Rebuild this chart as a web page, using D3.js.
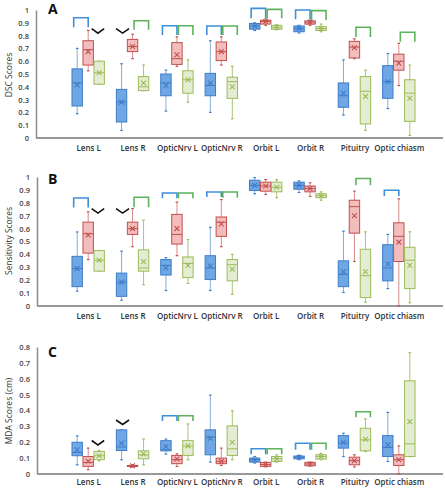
<!DOCTYPE html>
<html>
<head>
<meta charset="utf-8">
<script src="https://cdn.jsdelivr.net/npm/d3@7"></script>
<style>
  body { margin: 0; background: #fff; }
  text { font-family: "Open Sans", "Liberation Sans", sans-serif; }
</style>
</head>
<body>
<div id="chart"></div>
<script>
// categories on the x axis (same for the three panels)
var categories = ["Lens L", "Lens R", "OpticNrv L", "OpticNrv R", "Orbit L", "Orbit R", "Pituitry", "Optic chiasm"];
var series = ["blue", "red", "green"];

// each box: [whisker low, q1, median, q3, whisker high, mean]
var dscBlue = [[0.19,0.25,0.43,0.54,0.70,0.415],[0.06,0.125,0.28,0.38,0.58,0.28],[0.21,0.33,0.43,0.50,0.53,0.41],[0.20,0.33,0.41,0.505,0.76,0.43],
  [0.84,0.85,0.875,0.895,0.90,0.875],[0.82,0.83,0.855,0.875,0.88,0.855],[0.18,0.24,0.33,0.43,0.61,0.35],[0.23,0.31,0.44,0.565,0.66,0.44]];
var dscRed = [[0.525,0.57,0.69,0.76,0.84,0.675],[0.62,0.675,0.715,0.77,0.81,0.715],[0.56,0.575,0.62,0.745,0.79,0.65],[0.57,0.605,0.675,0.75,0.79,0.675],
  [0.88,0.89,0.91,0.92,0.93,0.91],[0.88,0.89,0.905,0.915,0.92,0.905],[0.62,0.625,0.71,0.755,0.775,0.705],[0.41,0.53,0.60,0.655,0.74,0.585]];
var dscGreen = [[0.42,0.42,0.51,0.60,0.60,0.51],[0.37,0.37,0.40,0.48,0.57,0.43],[0.28,0.35,0.455,0.525,0.61,0.455],[0.15,0.31,0.44,0.475,0.56,0.40],
  [0.845,0.85,0.865,0.88,0.885,0.865],[0.83,0.84,0.855,0.87,0.89,0.855],[0.06,0.11,0.365,0.48,0.53,0.325],[0.02,0.13,0.35,0.455,0.57,0.31]];

var sensBlue = [[0.115,0.15,0.29,0.385,0.574,0.29],[0.045,0.075,0.185,0.255,0.425,0.185],[0.12,0.24,0.315,0.36,0.375,0.295],[0.12,0.205,0.295,0.39,0.61,0.31],
  [0.87,0.895,0.935,0.975,0.995,0.935],[0.88,0.905,0.935,0.96,0.97,0.935],[0.105,0.15,0.245,0.35,0.58,0.265],[0.135,0.195,0.295,0.475,0.555,0.325]];
var sensRed = [[0.36,0.41,0.56,0.65,0.73,0.55],[0.46,0.555,0.60,0.65,0.755,0.60],[0.39,0.48,0.555,0.71,0.805,0.60],[0.46,0.54,0.65,0.69,0.825,0.635],
  [0.865,0.89,0.93,0.96,0.98,0.93],[0.85,0.885,0.91,0.93,0.955,0.91],[0.345,0.565,0.77,0.82,0.89,0.70],[0,0.345,0.54,0.645,0.83,0.495]];
var sensGreen = [[0.27,0.27,0.355,0.43,0.43,0.355],[0.165,0.27,0.295,0.435,0.665,0.345],[0.175,0.22,0.33,0.38,0.515,0.315],[0.09,0.195,0.32,0.36,0.40,0.285],
  [0.84,0.885,0.92,0.96,0.98,0.92],[0.82,0.84,0.855,0.87,0.885,0.855],[0.03,0.065,0.235,0.44,0.575,0.265],[0.025,0.135,0.355,0.455,0.575,0.315]];

var mdaBlue = [[0.058,0.115,0.135,0.20,0.24,0.152],[0.09,0.148,0.17,0.278,0.278,0.194],[0.125,0.146,0.152,0.21,0.22,0.173],[0.075,0.121,0.232,0.278,0.497,0.225],
  [0.069,0.075,0.09,0.10,0.11,0.09],[0.09,0.096,0.106,0.113,0.118,0.106],[0.11,0.163,0.195,0.242,0.257,0.198],[0.079,0.11,0.167,0.242,0.388,0.184]];
var mdaRed = [[0.027,0.048,0.073,0.11,0.163,0.08],[0.044,0.048,0.052,0.054,0.058,0.052],[0.048,0.065,0.09,0.117,0.127,0.094],[0.054,0.065,0.08,0.10,0.163,0.08],
  [0.045,0.048,0.06,0.073,0.075,0.06],[0.05,0.052,0.063,0.073,0.075,0.063],[0.044,0.058,0.084,0.106,0.121,0.084],[0.002,0.054,0.09,0.121,0.177,0.09]];
var mdaGreen = [[0.083,0.09,0.115,0.142,0.148,0.115],[0.058,0.096,0.12,0.146,0.22,0.127],[0.09,0.117,0.175,0.21,0.315,0.177],[0.09,0.117,0.159,0.303,0.399,0.20],
  [0.075,0.079,0.096,0.11,0.121,0.096],[0.09,0.094,0.11,0.121,0.13,0.11],[0.142,0.146,0.215,0.288,0.347,0.219],[0.11,0.11,0.19,0.587,0.764,0.33]];

// significance marks: [category index, pair, kind, top value, bottom value]
var dscMarks = [[0,"br","bracket",0.94,0.865],[0,"rg","chevron",0.854,0],[1,"br","chevron",0.855,0],[1,"rg","bracket",0.916,0.845],
  [2,"br","bracket",0.877,0.805],[2,"rg","bracket",0.877,0.805],[3,"br","bracket",0.875,0.805],[3,"rg","bracket",0.875,0.805],
  [4,"br","bracket",1.013,0.935],[4,"rg","bracket",1.005,0.935],[5,"br","bracket",1.0,0.928],[5,"rg","bracket",0.995,0.922],
  [6,"rg","bracket",0.865,0.79],[7,"rg","bracket",0.826,0.752]];
var sensMarks = [[0,"br","bracket",0.837,0.763],[0,"rg","chevron",0.755,0],[1,"br","chevron",0.755,0],[1,"rg","bracket",0.843,0.765],
  [2,"br","bracket",0.876,0.835],[2,"rg","bracket",0.876,0.835],[3,"br","bracket",0.884,0.845],[3,"rg","bracket",0.884,0.84],
  [6,"rg","bracket",0.988,0.936],[7,"br","bracket",0.897,0.853]];
var mdaMarks = [[0,"rg","chevron",0.211,0],[1,"br","chevron",0.34,0],
  [2,"br","bracket",0.367,0.334],[2,"rg","bracket",0.367,0.334],[4,"br","bracket",0.159,0.125],[4,"rg","bracket",0.159,0.125],
  [5,"br","bracket",0.194,0.152],[5,"rg","bracket",0.194,0.152],[6,"rg","bracket",0.392,0.357]];

var yTicksScore = [0,0.1,0.2,0.3,0.4,0.5,0.6,0.7,0.8,0.9,1];
var yTicksMda = [0,0.1,0.2,0.3,0.4,0.5,0.6,0.7,0.8];

var fills = {blue: "#6fa7e4", red: "#f3bdbd", green: "#e4edd1"};
var strokes = {blue: "#3e7cc8", red: "#c0504d", green: "#9bbb59"};
var whisk = {blue: "#84acdc", red: "#d88d8b", green: "#a9c677"};
var markColor = {br: "#3f90da", rg: "#5cb35c"};

var svg = d3.select("#chart").append("svg")
  .attr("width", 445).attr("height", 489);

var x = d3.scalePoint().domain(categories).range([66, 421]).padding(0.5);
var xs = d3.scaleBand().domain(series).range([-16.5, 16.5]);
var bw = 10.4;

var panels = [
  {letter: "A", title: "DSC Scores", data: [dscBlue, dscRed, dscGreen], marks: dscMarks, ticks: yTicksScore, fmt: function(d){return d==0||d==1 ? d : d.toFixed(1);},
   axisX: 36, top: 10, bottom: 138, max: 1, titleY: 75, letterY: 14, pad: 7},
  {letter: "B", title: "Sensitivity  Scores", data: [sensBlue, sensRed, sensGreen], marks: sensMarks, ticks: yTicksScore, fmt: function(d){return d==0||d==1 ? d : d.toFixed(1);},
   axisX: 37, top: 177, bottom: 306, max: 1, titleY: 241, letterY: 184, pad: 7},
  {letter: "C", title: "MDA Scores (cm)", data: [mdaBlue, mdaRed, mdaGreen], marks: mdaMarks, ticks: yTicksMda, fmt: function(d){return d==0 ? d : d.toFixed(1);},
   axisX: 37, top: 347, bottom: 474, max: 0.8, titleY: 411, letterY: 357, pad: 5}
];

panels.forEach(function(p) {
  var y = d3.scaleLinear().domain([0, p.max]).range([p.bottom, p.top]);
  var g = svg.append("g");

  // y axis: labels only and a plain line
  var yAxis = d3.axisLeft(y).tickValues(p.ticks).tickSize(0).tickPadding(7).tickFormat(p.fmt);
  var ga = g.append("g").attr("transform", "translate(" + p.axisX + ",0)").call(yAxis);
  ga.select(".domain").attr("stroke", "#8c8c8c").attr("stroke-width", 1.5);
  ga.selectAll("text").attr("font-size", 7.5).attr("font-weight", 600).attr("fill", "#444");

  // x axis line and labels
  var xAxis = d3.axisBottom(x).tickSize(0).tickPadding(p.pad);
  var gx = g.append("g").attr("transform", "translate(0," + p.bottom + ")").call(xAxis);
  gx.select(".domain").attr("d", "M" + p.axisX + ",0H443").attr("stroke", "#999").attr("stroke-width", 2);
  gx.selectAll("text").attr("font-size", 8).attr("font-weight", 600).attr("fill", "#333");

  g.append("text")
    .attr("transform", "translate(12," + p.titleY + ") rotate(-90)")
    .attr("text-anchor", "middle")
    .attr("font-family", "Liberation Sans Narrow, Liberation Sans, sans-serif")
    .attr("font-size", 8.5).attr("fill", "#333")
    .text(p.title);

  g.append("text").attr("x", 48).attr("y", p.letterY)
    .attr("font-family", "Liberation Sans, sans-serif")
    .attr("font-weight", "bold").attr("font-size", 14).attr("fill", "#111")
    .text(p.letter);

  // boxes
  series.forEach(function(s, si) {
    var gs = g.append("g");
    p.data[si].forEach(function(d, ci) {
      var cx = x(categories[ci]) + xs(s) + xs.bandwidth() / 2;
      var b = gs.append("g");
      b.append("line").attr("x1", cx).attr("x2", cx).attr("y1", y(d[0])).attr("y2", y(d[4]))
        .attr("stroke", whisk[s]).attr("stroke-width", 1);
      [d[0], d[4]].forEach(function(v) {
        b.append("line").attr("x1", cx - 1.3).attr("x2", cx + 1.3).attr("y1", y(v)).attr("y2", y(v))
          .attr("stroke", strokes[s]).attr("stroke-width", 1.2);
      });
      b.append("rect").attr("x", cx - bw / 2).attr("width", bw)
        .attr("y", y(d[3])).attr("height", Math.max(1, y(d[1]) - y(d[3])))
        .attr("fill", fills[s]).attr("stroke", strokes[s]).attr("stroke-width", 1);
      b.append("line").attr("x1", cx - bw / 2).attr("x2", cx + bw / 2).attr("y1", y(d[2])).attr("y2", y(d[2]))
        .attr("stroke", strokes[s]).attr("stroke-width", 1);
      var my = y(d[5]), r = 2.4;
      b.append("path").attr("d", "M" + (cx - r) + "," + (my - r) + "L" + (cx + r) + "," + (my + r) +
          "M" + (cx - r) + "," + (my + r) + "L" + (cx + r) + "," + (my - r))
        .attr("stroke", strokes[s]).attr("stroke-width", 1.1).attr("fill", "none");
    });
  });

  // brackets and chevrons
  p.marks.forEach(function(m) {
    var c = x(categories[m[0]]);
    var x0, x1;
    if (m[2] == "bracket") {
      if (m[1] == "br") { x0 = c - 14.5; x1 = c; } else { x0 = c + 1.5; x1 = c + 16; }
      g.append("path")
        .attr("d", "M" + x0 + "," + y(m[4]) + "V" + y(m[3]) + "H" + x1 + "V" + y(m[4]))
        .attr("fill", "none").attr("stroke", markColor[m[1]]).attr("stroke-width", 1.6);
    } else {
      if (m[1] == "br") { x0 = c - 16.5; x1 = c - 3.5; } else { x0 = c + 3.5; x1 = c + 16; }
      var ty = y(m[3]);
      g.append("path")
        .attr("d", "M" + x0 + "," + ty + "L" + ((x0 + x1) / 2) + "," + (ty + 4.5) + "L" + x1 + "," + ty)
        .attr("fill", "none").attr("stroke", "#111").attr("stroke-width", 1.6);
    }
  });
});
</script>
</body>
</html>
